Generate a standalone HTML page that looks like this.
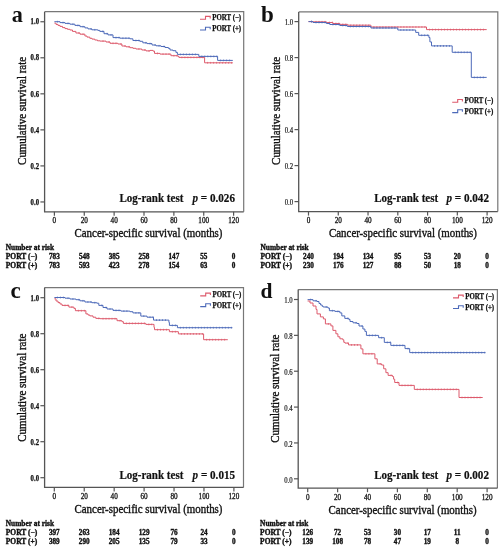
<!DOCTYPE html>
<html><head><meta charset="utf-8"><style>
html,body{margin:0;padding:0;background:#fff;width:502px;height:550px;overflow:hidden}
svg{display:block;will-change:transform}
text{font-family:"Liberation Serif",serif;fill:#111}
.h{stroke:#111;stroke-width:0.25px}
.h2{stroke:#111;stroke-width:0.2px}
.h3{stroke:#111;stroke-width:0.35px}
.hn{stroke:#222;stroke-width:0.2px}
.hx{stroke:#222;stroke-width:0.3px}
</style></head><body>
<svg width="502" height="550" viewBox="0 0 502 550">
<path d="M44.6 11.7 H243.7 V211.8" fill="none" stroke="#777" stroke-width="1.2"/>
<path d="M44.6 11.7 V211.8 H243.7" fill="none" stroke="#555" stroke-width="1.3"/>
<path d="M40.4 201.95 H44.6" stroke="#555" stroke-width="1.2"/>
<text x="39.0" y="204.65" text-anchor="end" font-size="7.2" textLength="8.4" lengthAdjust="spacingAndGlyphs" font-weight="bold" class="h">0.0</text>
<path d="M40.4 165.91 H44.6" stroke="#555" stroke-width="1.2"/>
<text x="39.0" y="168.61" text-anchor="end" font-size="7.2" textLength="8.4" lengthAdjust="spacingAndGlyphs" font-weight="bold" class="h">0.2</text>
<path d="M40.4 129.87 H44.6" stroke="#555" stroke-width="1.2"/>
<text x="39.0" y="132.57" text-anchor="end" font-size="7.2" textLength="8.4" lengthAdjust="spacingAndGlyphs" font-weight="bold" class="h">0.4</text>
<path d="M40.4 93.83 H44.6" stroke="#555" stroke-width="1.2"/>
<text x="39.0" y="96.53" text-anchor="end" font-size="7.2" textLength="8.4" lengthAdjust="spacingAndGlyphs" font-weight="bold" class="h">0.6</text>
<path d="M40.4 57.79 H44.6" stroke="#555" stroke-width="1.2"/>
<text x="39.0" y="60.49" text-anchor="end" font-size="7.2" textLength="8.4" lengthAdjust="spacingAndGlyphs" font-weight="bold" class="h">0.8</text>
<path d="M40.4 21.75 H44.6" stroke="#555" stroke-width="1.2"/>
<text x="39.0" y="24.45" text-anchor="end" font-size="7.2" textLength="8.4" lengthAdjust="spacingAndGlyphs" font-weight="bold" class="h">1.0</text>
<path d="M54.40 211.8 V215.8" stroke="#555" stroke-width="1.2"/>
<text x="54.40" y="223.10" text-anchor="middle" font-size="7.2" class="hx">0</text>
<path d="M84.27 211.8 V215.8" stroke="#555" stroke-width="1.2"/>
<text x="84.27" y="223.10" text-anchor="middle" font-size="7.2" class="hx">20</text>
<path d="M114.13 211.8 V215.8" stroke="#555" stroke-width="1.2"/>
<text x="114.13" y="223.10" text-anchor="middle" font-size="7.2" class="hx">40</text>
<path d="M144.00 211.8 V215.8" stroke="#555" stroke-width="1.2"/>
<text x="144.00" y="223.10" text-anchor="middle" font-size="7.2" class="hx">60</text>
<path d="M173.87 211.8 V215.8" stroke="#555" stroke-width="1.2"/>
<text x="173.87" y="223.10" text-anchor="middle" font-size="7.2" class="hx">80</text>
<path d="M203.73 211.8 V215.8" stroke="#555" stroke-width="1.2"/>
<text x="203.73" y="223.10" text-anchor="middle" font-size="7.2" class="hx">100</text>
<path d="M233.60 211.8 V215.8" stroke="#555" stroke-width="1.2"/>
<text x="233.60" y="223.10" text-anchor="middle" font-size="7.2" class="hx">120</text>
<text x="11.8" y="21.8" font-size="22.2" font-weight="bold">a</text>
<text transform="translate(26.2,110.9) rotate(-90)" text-anchor="middle" font-size="11.6" textLength="108" lengthAdjust="spacingAndGlyphs" class="h3">Cumulative survival rate</text>
<text x="148.5" y="237.4" text-anchor="middle" font-size="11.6" textLength="148" lengthAdjust="spacingAndGlyphs" class="h3">Cancer-specific survival (months)</text>
<text x="119.4" y="202.4" font-size="12" font-weight="bold" textLength="64" lengthAdjust="spacingAndGlyphs" class="h2">Log-rank test</text>
<text x="235.0" y="202.4" text-anchor="end" font-size="12" font-weight="bold" textLength="42.5" lengthAdjust="spacingAndGlyphs" class="h2"><tspan font-style="italic">p</tspan> = 0.026</text>
<path d="M200.0 19.2 H205.5 V16.4 H210.2 V18.4" fill="none" stroke="#dd5a6c" stroke-width="1.1"/>
<text x="212.3" y="20.2" font-size="7.3" font-weight="bold" textLength="28.8" lengthAdjust="spacingAndGlyphs" class="h">PORT (−)</text>
<path d="M200.0 30.0 H205.5 V27.2 H210.2 V29.2" fill="none" stroke="#4d6ab9" stroke-width="1.1"/>
<text x="212.3" y="31.0" font-size="7.3" font-weight="bold" textLength="28.8" lengthAdjust="spacingAndGlyphs" class="h">PORT (+)</text>
<path d="M54.4 23.1 H56.0 V24.4 H58.0 V25.4 H60.0 V26.4 H62.5 V27.6 H65.0 V28.6 H67.5 V29.3 H69.9 V30.0 H72.5 V31.4 H75.9 V33.0 H80.0 V34.2 H84.9 V36.0 H87.0 V37.1 H89.8 V38.3 H92.0 V39.1 H94.8 V40.0 H97.5 V40.8 H100.0 V41.1 H106.0 V42.0 H110.0 V43.3 H117.9 V44.0 H121.9 V46.0 H126.0 V46.8 H129.9 V47.7 H133.0 V48.3 H135.9 V49.0 H141.8 V50.0 H146.0 V50.9 H150.0 V50.4 H153.0 V51.1 H154.5 V53.4 H160.0 V54.1 H170.9 V55.7 H177.9 V56.4 H178.9 V57.4 H204.6 V62.8 H232.8" fill="none" stroke="#dd5a6c" stroke-width="1.0"/>
<path d="M78.9 32.1v1.8 M83.0 33.3v1.8 M103.0 40.2v1.8 M109.0 41.1v1.8 M113.0 42.4v1.8 M116.0 42.4v1.8 M120.9 43.1v1.8 M124.9 45.1v1.8 M129.0 45.9v1.8 M138.9 48.1v1.8 M144.8 49.1v1.8 M149.0 50.0v1.8 M157.5 52.5v1.8 M163.0 53.2v1.8 M166.0 53.2v1.8 M169.0 53.2v1.8 M173.9 54.8v1.8 M176.9 54.8v1.8 M181.9 56.5v1.8 M184.9 56.5v1.8 M187.9 56.5v1.8 M190.9 56.5v1.8 M193.9 56.5v1.8 M196.9 56.5v1.8 M199.9 56.5v1.8 M202.9 56.5v1.8 M207.6 61.9v1.8 M210.6 61.9v1.8 M213.6 61.9v1.8 M216.6 61.9v1.8 M219.6 61.9v1.8 M222.6 61.9v1.8 M225.6 61.9v1.8 M228.6 61.9v1.8 M231.6 61.9v1.8" stroke="#dd5a6c" stroke-width="0.9" opacity="0.8"/>
<path d="M54.4 21.7 H60.0 V22.6 H65.0 V23.4 H69.9 V24.2 H74.9 V25.4 H80.0 V26.7 H84.9 V27.9 H88.0 V28.9 H91.8 V29.8 H97.8 V30.4 H99.8 V31.4 H104.0 V33.7 H108.0 V34.9 H113.0 V37.6 H119.9 V38.2 H129.9 V38.8 H132.9 V40.5 H139.8 V41.3 H142.8 V42.8 H147.0 V43.6 H152.0 V45.0 H156.0 V45.8 H161.0 V46.5 H165.0 V47.5 H168.4 V48.4 H170.0 V50.0 H172.9 V50.7 H175.9 V52.4 H177.4 V54.4 H198.8 V56.4 H217.6 V60.4 H232.8" fill="none" stroke="#4d6ab9" stroke-width="1.0"/>
<path d="M57.4 20.8v1.8 M63.0 21.7v1.8 M68.0 22.5v1.8 M72.9 23.3v1.8 M77.9 24.5v1.8 M83.0 25.8v1.8 M91.0 28.0v1.8 M94.8 28.9v1.8 M102.8 30.5v1.8 M107.0 32.8v1.8 M111.0 34.0v1.8 M116.0 36.7v1.8 M119.0 36.7v1.8 M122.9 37.3v1.8 M125.9 37.3v1.8 M128.9 37.3v1.8 M135.9 39.6v1.8 M138.9 39.6v1.8 M145.8 41.9v1.8 M150.0 42.7v1.8 M155.0 44.1v1.8 M159.0 44.9v1.8 M164.0 45.6v1.8 M180.4 53.5v1.8 M183.4 53.5v1.8 M186.4 53.5v1.8 M189.4 53.5v1.8 M192.4 53.5v1.8 M195.4 53.5v1.8 M201.8 55.5v1.8 M204.8 55.5v1.8 M207.8 55.5v1.8 M210.8 55.5v1.8 M213.8 55.5v1.8 M216.8 55.5v1.8 M220.6 59.5v1.8 M223.6 59.5v1.8 M226.6 59.5v1.8 M229.6 59.5v1.8" stroke="#4d6ab9" stroke-width="0.9" opacity="0.8"/>
<text x="5.8" y="249.6" font-size="7.3" font-weight="bold" textLength="48.2" lengthAdjust="spacingAndGlyphs" class="h3">Number at risk</text>
<text x="5.8" y="258.6" font-size="7.3" font-weight="bold" textLength="31.5" lengthAdjust="spacingAndGlyphs" class="h3">PORT (−)</text>
<text x="54.40" y="258.6" text-anchor="middle" font-size="7.2" font-weight="bold" class="h3">783</text>
<text x="84.27" y="258.6" text-anchor="middle" font-size="7.2" font-weight="bold" class="h3">548</text>
<text x="114.13" y="258.6" text-anchor="middle" font-size="7.2" font-weight="bold" class="h3">385</text>
<text x="144.00" y="258.6" text-anchor="middle" font-size="7.2" font-weight="bold" class="h3">258</text>
<text x="173.87" y="258.6" text-anchor="middle" font-size="7.2" font-weight="bold" class="h3">147</text>
<text x="203.73" y="258.6" text-anchor="middle" font-size="7.2" font-weight="bold" class="h3">55</text>
<text x="233.60" y="258.6" text-anchor="middle" font-size="7.2" font-weight="bold" class="h3">0</text>
<text x="5.8" y="267.6" font-size="7.3" font-weight="bold" textLength="31.5" lengthAdjust="spacingAndGlyphs" class="h3">PORT (+)</text>
<text x="54.40" y="267.6" text-anchor="middle" font-size="7.2" font-weight="bold" class="h3">783</text>
<text x="84.27" y="267.6" text-anchor="middle" font-size="7.2" font-weight="bold" class="h3">593</text>
<text x="114.13" y="267.6" text-anchor="middle" font-size="7.2" font-weight="bold" class="h3">423</text>
<text x="144.00" y="267.6" text-anchor="middle" font-size="7.2" font-weight="bold" class="h3">278</text>
<text x="173.87" y="267.6" text-anchor="middle" font-size="7.2" font-weight="bold" class="h3">154</text>
<text x="203.73" y="267.6" text-anchor="middle" font-size="7.2" font-weight="bold" class="h3">63</text>
<text x="233.60" y="267.6" text-anchor="middle" font-size="7.2" font-weight="bold" class="h3">0</text>
<path d="M298.7 11.9 H497.8 V211.6" fill="none" stroke="#777" stroke-width="1.2"/>
<path d="M298.7 11.9 V211.6 H497.8" fill="none" stroke="#555" stroke-width="1.3"/>
<path d="M294.5 201.60 H298.7" stroke="#555" stroke-width="1.2"/>
<text x="293.09999999999997" y="205.30" text-anchor="end" font-size="7.6" textLength="8.4" lengthAdjust="spacingAndGlyphs" font-weight="normal" class="hn">0.0</text>
<path d="M294.5 165.60 H298.7" stroke="#555" stroke-width="1.2"/>
<text x="293.09999999999997" y="169.30" text-anchor="end" font-size="7.6" textLength="8.4" lengthAdjust="spacingAndGlyphs" font-weight="normal" class="hn">0.2</text>
<path d="M294.5 129.60 H298.7" stroke="#555" stroke-width="1.2"/>
<text x="293.09999999999997" y="133.30" text-anchor="end" font-size="7.6" textLength="8.4" lengthAdjust="spacingAndGlyphs" font-weight="normal" class="hn">0.4</text>
<path d="M294.5 93.60 H298.7" stroke="#555" stroke-width="1.2"/>
<text x="293.09999999999997" y="97.30" text-anchor="end" font-size="7.6" textLength="8.4" lengthAdjust="spacingAndGlyphs" font-weight="normal" class="hn">0.6</text>
<path d="M294.5 57.60 H298.7" stroke="#555" stroke-width="1.2"/>
<text x="293.09999999999997" y="61.30" text-anchor="end" font-size="7.6" textLength="8.4" lengthAdjust="spacingAndGlyphs" font-weight="normal" class="hn">0.8</text>
<path d="M294.5 21.60 H298.7" stroke="#555" stroke-width="1.2"/>
<text x="293.09999999999997" y="25.30" text-anchor="end" font-size="7.6" textLength="8.4" lengthAdjust="spacingAndGlyphs" font-weight="normal" class="hn">1.0</text>
<path d="M308.50 211.6 V215.6" stroke="#555" stroke-width="1.2"/>
<text x="308.50" y="222.90" text-anchor="middle" font-size="7.2" class="hx">0</text>
<path d="M338.27 211.6 V215.6" stroke="#555" stroke-width="1.2"/>
<text x="338.27" y="222.90" text-anchor="middle" font-size="7.2" class="hx">20</text>
<path d="M368.03 211.6 V215.6" stroke="#555" stroke-width="1.2"/>
<text x="368.03" y="222.90" text-anchor="middle" font-size="7.2" class="hx">40</text>
<path d="M397.80 211.6 V215.6" stroke="#555" stroke-width="1.2"/>
<text x="397.80" y="222.90" text-anchor="middle" font-size="7.2" class="hx">60</text>
<path d="M427.57 211.6 V215.6" stroke="#555" stroke-width="1.2"/>
<text x="427.57" y="222.90" text-anchor="middle" font-size="7.2" class="hx">80</text>
<path d="M457.33 211.6 V215.6" stroke="#555" stroke-width="1.2"/>
<text x="457.33" y="222.90" text-anchor="middle" font-size="7.2" class="hx">100</text>
<path d="M487.10 211.6 V215.6" stroke="#555" stroke-width="1.2"/>
<text x="487.10" y="222.90" text-anchor="middle" font-size="7.2" class="hx">120</text>
<text x="261.0" y="21.9" font-size="23" font-weight="bold">b</text>
<text transform="translate(279.7,110.9) rotate(-90)" text-anchor="middle" font-size="11.6" textLength="108" lengthAdjust="spacingAndGlyphs" class="h3">Cumulative survival rate</text>
<text x="403.0" y="237.2" text-anchor="middle" font-size="11.6" textLength="148" lengthAdjust="spacingAndGlyphs" class="h3">Cancer-specific survival (months)</text>
<text x="374.2" y="201.7" font-size="12" font-weight="bold" textLength="64" lengthAdjust="spacingAndGlyphs" class="h2">Log-rank test</text>
<text x="489.0" y="201.7" text-anchor="end" font-size="12" font-weight="bold" textLength="42.5" lengthAdjust="spacingAndGlyphs" class="h2"><tspan font-style="italic">p</tspan> = 0.042</text>
<path d="M452.2 102.3 H457.7 V99.5 H462.4 V101.5" fill="none" stroke="#dd5a6c" stroke-width="1.1"/>
<text x="464.5" y="103.3" font-size="7.3" font-weight="bold" textLength="28.8" lengthAdjust="spacingAndGlyphs" class="h">PORT (−)</text>
<path d="M452.2 112.6 H457.7 V109.8 H462.4 V111.8" fill="none" stroke="#4d6ab9" stroke-width="1.1"/>
<text x="464.5" y="113.6" font-size="7.3" font-weight="bold" textLength="28.8" lengthAdjust="spacingAndGlyphs" class="h">PORT (+)</text>
<path d="M308.5 21.6 H313.0 V21.8 H326.4 V22.5 H332.9 V23.5 H339.8 V24.4 H347.8 V25.2 H370.9 V27.0 H426.5 V29.6 H486.7" fill="none" stroke="#dd5a6c" stroke-width="1.0"/>
<path d="M311.5 20.7v1.8 M316.0 20.9v1.8 M319.0 20.9v1.8 M322.0 20.9v1.8 M325.0 20.9v1.8 M329.4 21.6v1.8 M332.4 21.6v1.8 M335.9 22.6v1.8 M338.9 22.6v1.8 M342.8 23.5v1.8 M345.8 23.5v1.8 M350.8 24.3v1.8 M353.8 24.3v1.8 M356.8 24.3v1.8 M359.8 24.3v1.8 M362.8 24.3v1.8 M365.8 24.3v1.8 M368.8 24.3v1.8 M373.9 26.1v1.8 M376.9 26.1v1.8 M379.9 26.1v1.8 M382.9 26.1v1.8 M385.9 26.1v1.8 M388.9 26.1v1.8 M391.9 26.1v1.8 M394.9 26.1v1.8 M397.9 26.1v1.8 M400.9 26.1v1.8 M403.9 26.1v1.8 M406.9 26.1v1.8 M409.9 26.1v1.8 M412.9 26.1v1.8 M415.9 26.1v1.8 M418.9 26.1v1.8 M421.9 26.1v1.8 M424.9 26.1v1.8 M429.5 28.7v1.8 M432.5 28.7v1.8 M435.5 28.7v1.8 M438.5 28.7v1.8 M441.5 28.7v1.8 M444.5 28.7v1.8 M447.5 28.7v1.8 M450.5 28.7v1.8 M453.5 28.7v1.8 M456.5 28.7v1.8 M459.5 28.7v1.8 M462.5 28.7v1.8 M465.5 28.7v1.8 M468.5 28.7v1.8 M471.5 28.7v1.8 M474.5 28.7v1.8 M477.5 28.7v1.8 M480.5 28.7v1.8 M483.5 28.7v1.8" stroke="#dd5a6c" stroke-width="0.9" opacity="0.8"/>
<path d="M308.5 21.6 H313.0 V22.5 H326.4 V23.5 H329.9 V24.5 H339.8 V25.5 H347.3 V26.5 H370.9 V28.0 H397.8 V30.0 H415.7 V32.4 H418.7 V35.3 H428.9 V37.5 H429.9 V41.9 H431.5 V45.9 H452.2 V52.3 H471.3 V77.4 H486.7" fill="none" stroke="#4d6ab9" stroke-width="1.0"/>
<path d="M311.5 20.7v1.8 M316.0 21.6v1.8 M319.0 21.6v1.8 M322.0 21.6v1.8 M325.0 21.6v1.8 M329.4 22.6v1.8 M332.9 23.6v1.8 M335.9 23.6v1.8 M338.9 23.6v1.8 M342.8 24.6v1.8 M345.8 24.6v1.8 M350.3 25.6v1.8 M353.3 25.6v1.8 M356.3 25.6v1.8 M359.3 25.6v1.8 M362.3 25.6v1.8 M365.3 25.6v1.8 M368.3 25.6v1.8 M373.9 27.1v1.8 M376.9 27.1v1.8 M379.9 27.1v1.8 M382.9 27.1v1.8 M385.9 27.1v1.8 M388.9 27.1v1.8 M391.9 27.1v1.8 M394.9 27.1v1.8 M400.8 29.1v1.8 M403.8 29.1v1.8 M406.8 29.1v1.8 M409.8 29.1v1.8 M412.8 29.1v1.8 M421.7 34.4v1.8 M424.7 34.4v1.8 M427.7 34.4v1.8 M434.5 45.0v1.8 M437.5 45.0v1.8 M440.5 45.0v1.8 M443.5 45.0v1.8 M446.5 45.0v1.8 M449.5 45.0v1.8 M455.2 51.4v1.8 M458.2 51.4v1.8 M461.2 51.4v1.8 M464.2 51.4v1.8 M467.2 51.4v1.8 M470.2 51.4v1.8 M474.3 76.5v1.8 M477.3 76.5v1.8 M480.3 76.5v1.8 M483.3 76.5v1.8" stroke="#4d6ab9" stroke-width="0.9" opacity="0.8"/>
<text x="260.5" y="249.6" font-size="7.3" font-weight="bold" textLength="48.2" lengthAdjust="spacingAndGlyphs" class="h3">Number at risk</text>
<text x="260.5" y="258.6" font-size="7.3" font-weight="bold" textLength="31.5" lengthAdjust="spacingAndGlyphs" class="h3">PORT (−)</text>
<text x="308.50" y="258.6" text-anchor="middle" font-size="7.2" font-weight="bold" class="h3">240</text>
<text x="338.27" y="258.6" text-anchor="middle" font-size="7.2" font-weight="bold" class="h3">194</text>
<text x="368.03" y="258.6" text-anchor="middle" font-size="7.2" font-weight="bold" class="h3">134</text>
<text x="397.80" y="258.6" text-anchor="middle" font-size="7.2" font-weight="bold" class="h3">95</text>
<text x="427.57" y="258.6" text-anchor="middle" font-size="7.2" font-weight="bold" class="h3">53</text>
<text x="457.33" y="258.6" text-anchor="middle" font-size="7.2" font-weight="bold" class="h3">20</text>
<text x="487.10" y="258.6" text-anchor="middle" font-size="7.2" font-weight="bold" class="h3">0</text>
<text x="260.5" y="267.6" font-size="7.3" font-weight="bold" textLength="31.5" lengthAdjust="spacingAndGlyphs" class="h3">PORT (+)</text>
<text x="308.50" y="267.6" text-anchor="middle" font-size="7.2" font-weight="bold" class="h3">230</text>
<text x="338.27" y="267.6" text-anchor="middle" font-size="7.2" font-weight="bold" class="h3">176</text>
<text x="368.03" y="267.6" text-anchor="middle" font-size="7.2" font-weight="bold" class="h3">127</text>
<text x="397.80" y="267.6" text-anchor="middle" font-size="7.2" font-weight="bold" class="h3">88</text>
<text x="427.57" y="267.6" text-anchor="middle" font-size="7.2" font-weight="bold" class="h3">50</text>
<text x="457.33" y="267.6" text-anchor="middle" font-size="7.2" font-weight="bold" class="h3">18</text>
<text x="487.10" y="267.6" text-anchor="middle" font-size="7.2" font-weight="bold" class="h3">0</text>
<path d="M44.6 287.6 H243.5 V487.4" fill="none" stroke="#777" stroke-width="1.2"/>
<path d="M44.6 287.6 V487.4 H243.5" fill="none" stroke="#555" stroke-width="1.3"/>
<path d="M40.4 477.70 H44.6" stroke="#555" stroke-width="1.2"/>
<text x="39.0" y="481.10" text-anchor="end" font-size="7.6" textLength="8.4" lengthAdjust="spacingAndGlyphs" font-weight="bold" class="h">0.0</text>
<path d="M40.4 441.70 H44.6" stroke="#555" stroke-width="1.2"/>
<text x="39.0" y="445.10" text-anchor="end" font-size="7.6" textLength="8.4" lengthAdjust="spacingAndGlyphs" font-weight="bold" class="h">0.2</text>
<path d="M40.4 405.70 H44.6" stroke="#555" stroke-width="1.2"/>
<text x="39.0" y="409.10" text-anchor="end" font-size="7.6" textLength="8.4" lengthAdjust="spacingAndGlyphs" font-weight="bold" class="h">0.4</text>
<path d="M40.4 369.70 H44.6" stroke="#555" stroke-width="1.2"/>
<text x="39.0" y="373.10" text-anchor="end" font-size="7.6" textLength="8.4" lengthAdjust="spacingAndGlyphs" font-weight="bold" class="h">0.6</text>
<path d="M40.4 333.70 H44.6" stroke="#555" stroke-width="1.2"/>
<text x="39.0" y="337.10" text-anchor="end" font-size="7.6" textLength="8.4" lengthAdjust="spacingAndGlyphs" font-weight="bold" class="h">0.8</text>
<path d="M40.4 297.70 H44.6" stroke="#555" stroke-width="1.2"/>
<text x="39.0" y="301.10" text-anchor="end" font-size="7.6" textLength="8.4" lengthAdjust="spacingAndGlyphs" font-weight="bold" class="h">1.0</text>
<path d="M54.30 487.4 V491.4" stroke="#555" stroke-width="1.2"/>
<text x="54.30" y="498.70" text-anchor="middle" font-size="7.2" class="hx">0</text>
<path d="M84.23 487.4 V491.4" stroke="#555" stroke-width="1.2"/>
<text x="84.23" y="498.70" text-anchor="middle" font-size="7.2" class="hx">20</text>
<path d="M114.17 487.4 V491.4" stroke="#555" stroke-width="1.2"/>
<text x="114.17" y="498.70" text-anchor="middle" font-size="7.2" class="hx">40</text>
<path d="M144.10 487.4 V491.4" stroke="#555" stroke-width="1.2"/>
<text x="144.10" y="498.70" text-anchor="middle" font-size="7.2" class="hx">60</text>
<path d="M174.03 487.4 V491.4" stroke="#555" stroke-width="1.2"/>
<text x="174.03" y="498.70" text-anchor="middle" font-size="7.2" class="hx">80</text>
<path d="M203.97 487.4 V491.4" stroke="#555" stroke-width="1.2"/>
<text x="203.97" y="498.70" text-anchor="middle" font-size="7.2" class="hx">100</text>
<path d="M233.90 487.4 V491.4" stroke="#555" stroke-width="1.2"/>
<text x="233.90" y="498.70" text-anchor="middle" font-size="7.2" class="hx">120</text>
<text x="10.5" y="297.9" font-size="23" font-weight="bold">c</text>
<text transform="translate(26.0,387.7) rotate(-90)" text-anchor="middle" font-size="11.6" textLength="108" lengthAdjust="spacingAndGlyphs" class="h3">Cumulative survival rate</text>
<text x="148.5" y="513.4" text-anchor="middle" font-size="11.6" textLength="148" lengthAdjust="spacingAndGlyphs" class="h3">Cancer-specific survival (months)</text>
<text x="119.4" y="478.6" font-size="12" font-weight="bold" textLength="64" lengthAdjust="spacingAndGlyphs" class="h2">Log-rank test</text>
<text x="235.1" y="478.6" text-anchor="end" font-size="12" font-weight="bold" textLength="42.5" lengthAdjust="spacingAndGlyphs" class="h2"><tspan font-style="italic">p</tspan> = 0.015</text>
<path d="M200.2 295.9 H205.7 V293.1 H210.39999999999998 V295.1" fill="none" stroke="#dd5a6c" stroke-width="1.1"/>
<text x="212.5" y="296.9" font-size="7.3" font-weight="bold" textLength="28.8" lengthAdjust="spacingAndGlyphs" class="h">PORT (−)</text>
<path d="M200.2 306.6 H205.7 V303.8 H210.39999999999998 V305.8" fill="none" stroke="#4d6ab9" stroke-width="1.1"/>
<text x="212.5" y="307.6" font-size="7.3" font-weight="bold" textLength="28.8" lengthAdjust="spacingAndGlyphs" class="h">PORT (+)</text>
<path d="M54.4 298.8 H56.0 V301.0 H58.0 V302.6 H60.0 V304.0 H62.0 V305.4 H68.9 V307.1 H73.9 V308.4 H75.4 V310.7 H85.9 V313.9 H88.0 V315.0 H89.8 V315.9 H93.0 V317.2 H95.8 V318.4 H100.0 V318.7 H117.0 V320.7 H121.9 V321.7 H123.4 V323.4 H145.8 V324.4 H152.5 V324.4 H154.0 V327.4 H154.5 V329.7 H169.4 V331.7 H178.4 V333.9 H203.6 V339.7 H227.8" fill="none" stroke="#dd5a6c" stroke-width="1.0"/>
<path d="M65.0 304.5v1.8 M68.0 304.5v1.8 M71.9 306.2v1.8 M78.4 309.8v1.8 M81.4 309.8v1.8 M84.4 309.8v1.8 M98.8 317.5v1.8 M103.0 317.8v1.8 M106.0 317.8v1.8 M109.0 317.8v1.8 M112.0 317.8v1.8 M115.0 317.8v1.8 M120.0 319.8v1.8 M126.4 322.5v1.8 M129.4 322.5v1.8 M132.4 322.5v1.8 M135.4 322.5v1.8 M138.4 322.5v1.8 M141.4 322.5v1.8 M144.4 322.5v1.8 M148.8 323.5v1.8 M151.8 323.5v1.8 M157.5 328.8v1.8 M160.5 328.8v1.8 M163.5 328.8v1.8 M166.5 328.8v1.8 M172.4 330.8v1.8 M175.4 330.8v1.8 M181.4 333.0v1.8 M184.4 333.0v1.8 M187.4 333.0v1.8 M190.4 333.0v1.8 M193.4 333.0v1.8 M196.4 333.0v1.8 M199.4 333.0v1.8 M202.4 333.0v1.8 M206.6 338.8v1.8 M209.6 338.8v1.8 M212.6 338.8v1.8 M215.6 338.8v1.8 M218.6 338.8v1.8 M221.6 338.8v1.8 M224.6 338.8v1.8" stroke="#dd5a6c" stroke-width="0.9" opacity="0.8"/>
<path d="M54.4 297.5 H65.0 V298.2 H69.9 V299.0 H75.9 V299.7 H79.9 V300.8 H84.9 V302.0 H91.8 V302.7 H96.8 V303.2 H98.8 V305.4 H103.0 V307.5 H107.0 V309.0 H113.0 V310.4 H120.9 V311.1 H129.9 V311.7 H132.9 V312.9 H140.8 V316.1 H147.0 V317.2 H153.5 V320.1 H168.9 V322.4 H169.4 V325.4 H177.4 V327.7 H232.4" fill="none" stroke="#4d6ab9" stroke-width="1.0"/>
<path d="M57.4 296.6v1.8 M60.4 296.6v1.8 M63.4 296.6v1.8 M68.0 297.3v1.8 M72.9 298.1v1.8 M78.9 298.8v1.8 M82.9 299.9v1.8 M87.9 301.1v1.8 M90.9 301.1v1.8 M94.8 301.8v1.8 M101.8 304.5v1.8 M106.0 306.6v1.8 M110.0 308.1v1.8 M116.0 309.5v1.8 M119.0 309.5v1.8 M123.9 310.2v1.8 M126.9 310.2v1.8 M135.9 312.0v1.8 M138.9 312.0v1.8 M143.8 315.2v1.8 M150.0 316.3v1.8 M153.0 316.3v1.8 M156.5 319.2v1.8 M159.5 319.2v1.8 M162.5 319.2v1.8 M165.5 319.2v1.8 M172.4 324.5v1.8 M175.4 324.5v1.8 M180.4 326.8v1.8 M183.4 326.8v1.8 M186.4 326.8v1.8 M189.4 326.8v1.8 M192.4 326.8v1.8 M195.4 326.8v1.8 M198.4 326.8v1.8 M201.4 326.8v1.8 M204.4 326.8v1.8 M207.4 326.8v1.8 M210.4 326.8v1.8 M213.4 326.8v1.8 M216.4 326.8v1.8 M219.4 326.8v1.8 M222.4 326.8v1.8 M225.4 326.8v1.8 M228.4 326.8v1.8 M231.4 326.8v1.8" stroke="#4d6ab9" stroke-width="0.9" opacity="0.8"/>
<text x="5.8" y="525.8" font-size="7.3" font-weight="bold" textLength="48.2" lengthAdjust="spacingAndGlyphs" class="h3">Number at risk</text>
<text x="5.8" y="534.8" font-size="7.3" font-weight="bold" textLength="31.5" lengthAdjust="spacingAndGlyphs" class="h3">PORT (−)</text>
<text x="54.30" y="534.8" text-anchor="middle" font-size="7.2" font-weight="bold" class="h3">397</text>
<text x="84.23" y="534.8" text-anchor="middle" font-size="7.2" font-weight="bold" class="h3">263</text>
<text x="114.17" y="534.8" text-anchor="middle" font-size="7.2" font-weight="bold" class="h3">184</text>
<text x="144.10" y="534.8" text-anchor="middle" font-size="7.2" font-weight="bold" class="h3">129</text>
<text x="174.03" y="534.8" text-anchor="middle" font-size="7.2" font-weight="bold" class="h3">76</text>
<text x="203.97" y="534.8" text-anchor="middle" font-size="7.2" font-weight="bold" class="h3">24</text>
<text x="233.90" y="534.8" text-anchor="middle" font-size="7.2" font-weight="bold" class="h3">0</text>
<text x="5.8" y="543.8" font-size="7.3" font-weight="bold" textLength="31.5" lengthAdjust="spacingAndGlyphs" class="h3">PORT (+)</text>
<text x="54.30" y="543.8" text-anchor="middle" font-size="7.2" font-weight="bold" class="h3">389</text>
<text x="84.23" y="543.8" text-anchor="middle" font-size="7.2" font-weight="bold" class="h3">290</text>
<text x="114.17" y="543.8" text-anchor="middle" font-size="7.2" font-weight="bold" class="h3">205</text>
<text x="144.10" y="543.8" text-anchor="middle" font-size="7.2" font-weight="bold" class="h3">135</text>
<text x="174.03" y="543.8" text-anchor="middle" font-size="7.2" font-weight="bold" class="h3">79</text>
<text x="203.97" y="543.8" text-anchor="middle" font-size="7.2" font-weight="bold" class="h3">33</text>
<text x="233.90" y="543.8" text-anchor="middle" font-size="7.2" font-weight="bold" class="h3">0</text>
<path d="M298.2 289.6 H497.4 V488.2" fill="none" stroke="#777" stroke-width="1.2"/>
<path d="M298.2 289.6 V488.2 H497.4" fill="none" stroke="#555" stroke-width="1.3"/>
<path d="M294.0 478.80 H298.2" stroke="#555" stroke-width="1.2"/>
<text x="292.59999999999997" y="482.50" text-anchor="end" font-size="7.6" textLength="8.4" lengthAdjust="spacingAndGlyphs" font-weight="normal" class="hn">0.0</text>
<path d="M294.0 442.94 H298.2" stroke="#555" stroke-width="1.2"/>
<text x="292.59999999999997" y="446.64" text-anchor="end" font-size="7.6" textLength="8.4" lengthAdjust="spacingAndGlyphs" font-weight="normal" class="hn">0.2</text>
<path d="M294.0 407.08 H298.2" stroke="#555" stroke-width="1.2"/>
<text x="292.59999999999997" y="410.78" text-anchor="end" font-size="7.6" textLength="8.4" lengthAdjust="spacingAndGlyphs" font-weight="normal" class="hn">0.4</text>
<path d="M294.0 371.22 H298.2" stroke="#555" stroke-width="1.2"/>
<text x="292.59999999999997" y="374.92" text-anchor="end" font-size="7.6" textLength="8.4" lengthAdjust="spacingAndGlyphs" font-weight="normal" class="hn">0.6</text>
<path d="M294.0 335.36 H298.2" stroke="#555" stroke-width="1.2"/>
<text x="292.59999999999997" y="339.06" text-anchor="end" font-size="7.6" textLength="8.4" lengthAdjust="spacingAndGlyphs" font-weight="normal" class="hn">0.8</text>
<path d="M294.0 299.50 H298.2" stroke="#555" stroke-width="1.2"/>
<text x="292.59999999999997" y="303.20" text-anchor="end" font-size="7.6" textLength="8.4" lengthAdjust="spacingAndGlyphs" font-weight="normal" class="hn">1.0</text>
<path d="M307.70 488.2 V492.2" stroke="#555" stroke-width="1.2"/>
<text x="307.70" y="499.50" text-anchor="middle" font-size="7.2" class="hx">0</text>
<path d="M337.60 488.2 V492.2" stroke="#555" stroke-width="1.2"/>
<text x="337.60" y="499.50" text-anchor="middle" font-size="7.2" class="hx">20</text>
<path d="M367.50 488.2 V492.2" stroke="#555" stroke-width="1.2"/>
<text x="367.50" y="499.50" text-anchor="middle" font-size="7.2" class="hx">40</text>
<path d="M397.40 488.2 V492.2" stroke="#555" stroke-width="1.2"/>
<text x="397.40" y="499.50" text-anchor="middle" font-size="7.2" class="hx">60</text>
<path d="M427.30 488.2 V492.2" stroke="#555" stroke-width="1.2"/>
<text x="427.30" y="499.50" text-anchor="middle" font-size="7.2" class="hx">80</text>
<path d="M457.20 488.2 V492.2" stroke="#555" stroke-width="1.2"/>
<text x="457.20" y="499.50" text-anchor="middle" font-size="7.2" class="hx">100</text>
<path d="M487.10 488.2 V492.2" stroke="#555" stroke-width="1.2"/>
<text x="487.10" y="499.50" text-anchor="middle" font-size="7.2" class="hx">120</text>
<text x="260.4" y="297.6" font-size="21.5" font-weight="bold">d</text>
<text transform="translate(279.2,388.7) rotate(-90)" text-anchor="middle" font-size="11.6" textLength="108" lengthAdjust="spacingAndGlyphs" class="h3">Cumulative survival rate</text>
<text x="402.6" y="514.0" text-anchor="middle" font-size="11.6" textLength="148" lengthAdjust="spacingAndGlyphs" class="h3">Cancer-specific survival (months)</text>
<text x="374.2" y="478.7" font-size="12" font-weight="bold" textLength="64" lengthAdjust="spacingAndGlyphs" class="h2">Log-rank test</text>
<text x="489.0" y="478.7" text-anchor="end" font-size="12" font-weight="bold" textLength="42.5" lengthAdjust="spacingAndGlyphs" class="h2"><tspan font-style="italic">p</tspan> = 0.002</text>
<path d="M453.0 297.9 H458.5 V295.1 H463.2 V297.1" fill="none" stroke="#dd5a6c" stroke-width="1.1"/>
<text x="465.3" y="298.9" font-size="7.3" font-weight="bold" textLength="28.8" lengthAdjust="spacingAndGlyphs" class="h">PORT (−)</text>
<path d="M453.0 308.5 H458.5 V305.7 H463.2 V307.7" fill="none" stroke="#4d6ab9" stroke-width="1.1"/>
<text x="465.3" y="309.5" font-size="7.3" font-weight="bold" textLength="28.8" lengthAdjust="spacingAndGlyphs" class="h">PORT (+)</text>
<path d="M307.6 301.0 H310.0 V303.0 H313.0 V306.0 H316.0 V309.4 H317.0 V313.9 H320.4 V316.9 H323.4 V318.9 H325.4 V323.9 H330.9 V325.9 H332.9 V330.4 H335.9 V333.8 H337.9 V336.8 H339.9 V338.8 H342.8 V339.8 H343.8 V342.3 H345.0 V343.1 H348.5 V344.9 H360.9 V348.9 H362.9 V353.8 H374.9 V358.8 H377.2 V363.9 H381.6 V365.0 H383.7 V368.8 H385.9 V372.7 H388.1 V375.4 H392.5 V376.5 H393.6 V379.2 H394.7 V382.5 H399.0 V385.4 H414.3 V389.4 H459.0 V397.5 H482.7" fill="none" stroke="#dd5a6c" stroke-width="1.0"/>
<path d="M328.4 323.0v1.8 M348.0 342.2v1.8 M351.5 344.0v1.8 M354.5 344.0v1.8 M357.5 344.0v1.8 M365.9 352.9v1.8 M368.9 352.9v1.8 M371.9 352.9v1.8 M380.2 363.0v1.8 M391.1 374.5v1.8 M397.7 381.6v1.8 M402.0 384.5v1.8 M405.0 384.5v1.8 M408.0 384.5v1.8 M411.0 384.5v1.8 M417.3 388.5v1.8 M420.3 388.5v1.8 M423.3 388.5v1.8 M426.3 388.5v1.8 M429.3 388.5v1.8 M432.3 388.5v1.8 M435.3 388.5v1.8 M438.3 388.5v1.8 M441.3 388.5v1.8 M444.3 388.5v1.8 M447.3 388.5v1.8 M450.3 388.5v1.8 M453.3 388.5v1.8 M456.3 388.5v1.8 M462.0 396.6v1.8 M465.0 396.6v1.8 M468.0 396.6v1.8 M471.0 396.6v1.8 M474.0 396.6v1.8 M477.0 396.6v1.8 M480.0 396.6v1.8" stroke="#dd5a6c" stroke-width="0.9" opacity="0.8"/>
<path d="M307.6 299.6 H313.0 V300.8 H317.0 V301.5 H319.0 V303.5 H320.6 V305.0 H322.2 V306.3 H323.2 V307.0 H327.9 V308.0 H329.4 V310.7 H334.9 V311.4 H339.9 V312.9 H341.8 V315.9 H344.8 V318.4 H348.8 V319.4 H350.0 V321.5 H353.0 V322.8 H357.0 V323.5 H359.0 V326.0 H362.9 V329.0 H364.9 V331.4 H366.4 V335.4 H378.6 V337.7 H384.3 V342.4 H390.8 V345.4 H405.0 V348.6 H409.7 V352.6 H485.5" fill="none" stroke="#4d6ab9" stroke-width="1.0"/>
<path d="M310.6 298.7v1.8 M316.0 299.9v1.8 M326.2 306.1v1.8 M332.4 309.8v1.8 M337.9 310.5v1.8 M347.8 317.5v1.8 M356.0 321.9v1.8 M362.0 325.1v1.8 M369.4 334.5v1.8 M372.4 334.5v1.8 M375.4 334.5v1.8 M381.6 336.8v1.8 M387.3 341.5v1.8 M390.3 341.5v1.8 M393.8 344.5v1.8 M396.8 344.5v1.8 M399.8 344.5v1.8 M402.8 344.5v1.8 M408.0 347.7v1.8 M412.7 351.7v1.8 M415.7 351.7v1.8 M418.7 351.7v1.8 M421.7 351.7v1.8 M424.7 351.7v1.8 M427.7 351.7v1.8 M430.7 351.7v1.8 M433.7 351.7v1.8 M436.7 351.7v1.8 M439.7 351.7v1.8 M442.7 351.7v1.8 M445.7 351.7v1.8 M448.7 351.7v1.8 M451.7 351.7v1.8 M454.7 351.7v1.8 M457.7 351.7v1.8 M460.7 351.7v1.8 M463.7 351.7v1.8 M466.7 351.7v1.8 M469.7 351.7v1.8 M472.7 351.7v1.8 M475.7 351.7v1.8 M478.7 351.7v1.8 M481.7 351.7v1.8 M484.7 351.7v1.8" stroke="#4d6ab9" stroke-width="0.9" opacity="0.8"/>
<text x="260.1" y="525.8" font-size="7.3" font-weight="bold" textLength="48.2" lengthAdjust="spacingAndGlyphs" class="h3">Number at risk</text>
<text x="260.1" y="534.8" font-size="7.3" font-weight="bold" textLength="31.5" lengthAdjust="spacingAndGlyphs" class="h3">PORT (−)</text>
<text x="307.70" y="534.8" text-anchor="middle" font-size="7.2" font-weight="bold" class="h3">126</text>
<text x="337.60" y="534.8" text-anchor="middle" font-size="7.2" font-weight="bold" class="h3">72</text>
<text x="367.50" y="534.8" text-anchor="middle" font-size="7.2" font-weight="bold" class="h3">53</text>
<text x="397.40" y="534.8" text-anchor="middle" font-size="7.2" font-weight="bold" class="h3">30</text>
<text x="427.30" y="534.8" text-anchor="middle" font-size="7.2" font-weight="bold" class="h3">17</text>
<text x="457.20" y="534.8" text-anchor="middle" font-size="7.2" font-weight="bold" class="h3">11</text>
<text x="487.10" y="534.8" text-anchor="middle" font-size="7.2" font-weight="bold" class="h3">0</text>
<text x="260.1" y="543.8" font-size="7.3" font-weight="bold" textLength="31.5" lengthAdjust="spacingAndGlyphs" class="h3">PORT (+)</text>
<text x="307.70" y="543.8" text-anchor="middle" font-size="7.2" font-weight="bold" class="h3">139</text>
<text x="337.60" y="543.8" text-anchor="middle" font-size="7.2" font-weight="bold" class="h3">108</text>
<text x="367.50" y="543.8" text-anchor="middle" font-size="7.2" font-weight="bold" class="h3">78</text>
<text x="397.40" y="543.8" text-anchor="middle" font-size="7.2" font-weight="bold" class="h3">47</text>
<text x="427.30" y="543.8" text-anchor="middle" font-size="7.2" font-weight="bold" class="h3">19</text>
<text x="457.20" y="543.8" text-anchor="middle" font-size="7.2" font-weight="bold" class="h3">8</text>
<text x="487.10" y="543.8" text-anchor="middle" font-size="7.2" font-weight="bold" class="h3">0</text>
</svg>
</body></html>
